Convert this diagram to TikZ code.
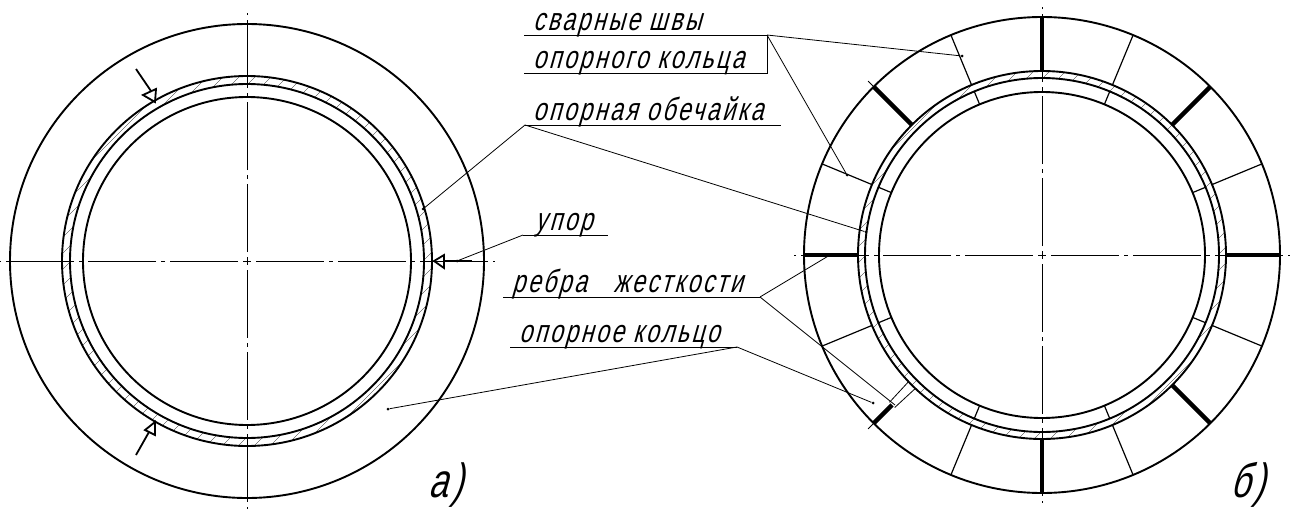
\documentclass[tikz,border=0pt]{standalone}
\usepackage{fontspec}
\usetikzlibrary{arrows.meta,positioning,calc}
\newfontfamily\gostfont[FakeSlant=0.28,FakeStretch=0.72,LetterSpace=8]{Liberation Sans}
\begin{document}
\begin{tikzpicture}[
    x=1pt,y=-1pt,
    outline/.style={line width=1.9pt},
    thinline/.style={line width=0.8pt},
    hatchline/.style={line width=0.3pt},
    axisline/.style={line width=0.8pt,dash pattern=on 4pt off 5pt on 68pt off 5pt},
    ribline/.style={line width=4.5pt},
    weldline/.style={line width=1.2pt},
    leader/.style={line width=0.8pt},
    label/.style={anchor=base west,inner sep=0pt,font=\gostfont\fontsize{32}{32}\selectfont},
    bigtext/.style={label,font=\gostfont\fontsize{48}{48}\selectfont},
    pointer/.style={line width=1.8pt},
    enddot/.style={circle,fill,inner sep=0pt,minimum size=3pt}]
  \useasboundingbox (0,0) rectangle (1291,514);
  \fill[white] (0,0) rectangle (1291,514);
  \coordinate (ca) at (247,261);
  \coordinate (cb) at (1042,255);
  % left view
  \begin{scope}[shift={(ca)}]
    \begin{scope}[even odd rule]
      \clip (0,0) circle[radius=185] (0,0) circle[radius=177];
      \foreach \k in {-24,...,24}
        \draw[hatchline] (\k*16-200,200) -- (\k*16+200,-200);
    \end{scope}
    \draw[outline] (0,0) circle[radius=237];
    \draw[outline] (0,0) circle[radius=185];
    \draw[outline] (0,0) circle[radius=177];
    \draw[outline] (0,0) circle[radius=164];
    \foreach \a in {0,90,180,270}
      \draw[axisline] (0,0) -- (\a:248);
  \end{scope}
  % right view
  \begin{scope}[shift={(cb)}]
    \begin{scope}[even odd rule]
      \clip (0,0) circle[radius=184] (0,0) circle[radius=177];
      \foreach \k in {-24,...,24}
        \draw[hatchline] (\k*16-200,200) -- (\k*16+200,-200);
    \end{scope}
    \draw[outline] (0,0) circle[radius=238];
    \draw[outline] (0,0) circle[radius=184];
    \draw[outline] (0,0) circle[radius=177];
    \draw[outline] (0,0) circle[radius=163];
    \foreach \a in {0,90,180,270}
      \draw[axisline] (0,0) -- (\a:248);
    \foreach \a in {0,45,90,180,225,270,315}
      \draw[ribline] (\a:184) -- (\a:238);
    % this rib is only half filled
    \draw[ribline] (135:212) -- (135:238);
    \draw[thinline] (133.5:184) -- (134:212);
    \draw[thinline] (136.5:184) -- (136:212);
    \foreach \a in {135,225}
      \draw[thinline] (\a:238) -- (\a:246);
    \foreach \a in {22.5,67.5,...,337.5} {
      \draw[weldline] (\a:184) -- (\a:238);
      \draw[weldline] (\a:163) -- (\a:177);
    }
  \end{scope}
  % pointers
  \coordinate (pa) at (136,69);
  \coordinate (pb) at (151,91);
  \coordinate (pc) at (136,455);
  \coordinate (pd) at (149,432);
  \draw[pointer] (pa) -- (pb);
  \draw[pointer] (143,95) -- (156,89) -- (155,102) -- cycle;
  \draw[pointer] (pc) -- (pd);
  \draw[pointer] (145,430) -- (155,435) -- (155,422) -- cycle;
  \draw[pointer] (434,261) -- (444,255) -- (444,268) -- cycle;
  \draw[line width=2.4pt] (444,261) -- (472,261);
  % texts
  \node[label] (welds) at (533,30) {сварные швы};
  \node[label] (ringwelds) at (533,68) {опорного кольца};
  \node[label] (shell) at (533,120) {опорная обечайка};
  \node[label] (stop) at (535,230) {упор};
  \node[label] (ribs) at (512,292) {ребра\hspace{18pt} жесткости};
  \node[label] (ring) at (519,342) {опорное кольцо};
  \node[bigtext] (viewa) at (428,497) {а)};
  \node[bigtext] (viewb) at (1230,497) {б)};
  % leaders
  \coordinate (weldsR) at (767,35);
  \coordinate (shellL) at (525,125);
  \coordinate (stopL) at (523,235);
  \coordinate (ribsR) at (760,297);
  \coordinate (ringR) at (737,347);
  \draw[leader] (524,35) -- (weldsR) -- (767,73) -- (524,73);
  \draw[leader] (shellL) -- (781,125);
  \draw[leader] (stopL) -- (608,235);
  \draw[leader] (503,297) -- (ribsR);
  \draw[leader] (510,347) -- (ringR);
  \node[enddot] (e1) at (962,56) {};
  \node[enddot] (e2) at (847,175) {};
  \node[enddot] (e3) at (423,209) {};
  \node[enddot] (e4) at (866,232) {};
  \node[enddot] (e5) at (457,261) {};
  \node[enddot] (e6) at (388,409) {};
  \node[enddot] (e7) at (873,403) {};
  \coordinate (e8) at (830,255);
  \coordinate (e9) at (895,405);
  \draw[leader] (weldsR) -- (e1);
  \draw[leader] (weldsR) -- (e2);
  \draw[leader] (shellL) -- (e3);
  \draw[leader] (shellL) -- (e4);
  \draw[leader] (stopL) -- (e5);
  \draw[leader] (ribsR) -- (e8);
  \draw[leader] (ribsR) -- (e9);
  \draw[leader] (ringR) -- (e6);
  \draw[leader] (ringR) -- (e7);
\end{tikzpicture}
\end{document}
